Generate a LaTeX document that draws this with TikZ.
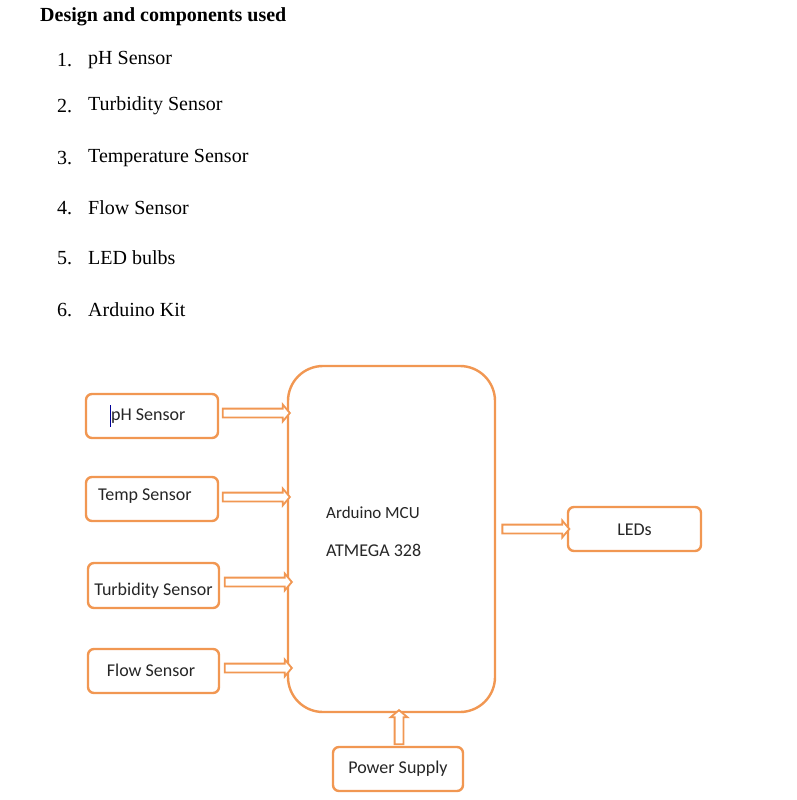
\documentclass[tikz,border=0pt]{standalone}
\usepackage{fontspec}
\setmainfont{Liberation Serif}
\newfontfamily\calib{Carlito}
\usetikzlibrary{shapes.arrows}
\definecolor{org}{RGB}{241,151,82}
\begin{document}
\begin{tikzpicture}[x=1pt,y=-1pt,
  box/.style={draw=org,line width=2.4pt,rounded corners=6pt,fill=white},
  lbl/.style={font=\calib\fontsize{18}{20}\selectfont,text=black!85,inner sep=0pt},
  itm/.style={anchor=west,inner sep=0pt,font=\fontsize{20}{22}\selectfont},
  barr/.style={single arrow,draw=org,line width=1.8pt,fill=white,minimum height=67pt,
    single arrow head extend=4pt,inner sep=3.5pt,single arrow tip angle=100}]
\useasboundingbox (0,0) rectangle (796,800);
\node[anchor=west,inner sep=0pt,font=\bfseries\fontsize{20}{22}\selectfont] (title) at (40,17) {Design and components used};
\foreach \n/\y/\t in {1/60/pH Sensor,2/106/Turbidity Sensor,3/158/Temperature Sensor,4/208/Flow Sensor,5/258/LED bulbs,6/310/Arduino Kit}{
  \node[itm] (n\n) at (57,\y) {\n.};
  \node[itm] (t\n) at (88,\y) {\t};
}
\draw[box,rounded corners=35pt] (288,366) rectangle (495,712);
\node[box,minimum width=132pt,minimum height=44pt] (ph) at (152,416) {};
\node[lbl,anchor=west] (pht) at (111,416) {pH Sensor};
\node[box,minimum width=132pt,minimum height=44pt] (temp) at (152,499) {};
\node[lbl,anchor=west] (tempt) at (98,496) {Temp Sensor};
\node[box,minimum width=131pt,minimum height=45pt] (turb) at (153.5,585.5) {};
\node[lbl] (turbt) at (153.5,591) {Turbidity Sensor};
\node[box,minimum width=131pt,minimum height=44pt] (flow) at (153.5,671) {};
\node[lbl] (flowt) at (151,670) {Flow Sensor};
\node[box,minimum width=133pt,minimum height=44pt] (led) at (634.5,529) {};
\node[lbl] (ledt) at (634.5,530) {LEDs};
\node[box,minimum width=130pt,minimum height=44pt] (pow) at (398,769) {};
\node[lbl] (powt) at (398,769) {Power Supply};
\node[lbl,anchor=west,font=\calib\fontsize{17}{19}\selectfont] (mcu1) at (326,513) {Arduino MCU};
\node[lbl,anchor=west,font=\calib\fontsize{18}{20}\selectfont] (mcu2) at (326,550) {ATMEGA 328};
\draw[blue!60!black,line width=1pt] (110,405) -- (110,427);
\node[barr] (a1) at (254.5,413) {};
\node[barr] (a2) at (254.5,497) {};
\node[barr] (a3) at (256.5,582) {};
\node[barr] (a4) at (256.5,668) {};
\node[barr] (a5) at (534,529) {};
\node[barr,minimum height=34pt,shape border rotate=90] (a6) at (399,729) {};
\end{tikzpicture}
\end{document}
